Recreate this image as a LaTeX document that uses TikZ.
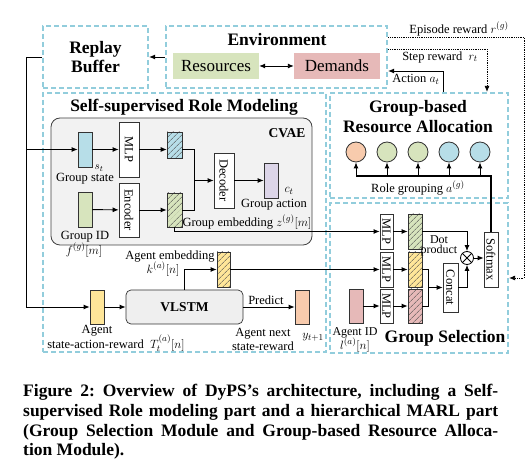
\documentclass[tikz,border=0pt]{standalone}
\usepackage{fontspec}
\setmainfont{Liberation Serif}
\usepackage{graphicx}
\usetikzlibrary{arrows.meta,patterns.meta,calc}
\frenchspacing
\definecolor{dashc}{HTML}{92CDDC}
\definecolor{resg}{HTML}{D7E4BD}
\definecolor{demr}{HTML}{E6B9B8}
\definecolor{blu}{HTML}{B7DEE8}
\definecolor{peach}{HTML}{F8CBAD}
\definecolor{agy}{HTML}{FFE699}
\definecolor{lav}{HTML}{DCD5E8}
\definecolor{cvaeg}{HTML}{F2F2F2}
\definecolor{vlg}{HTML}{EFEFEF}
\newcommand{\titlef}{\fontsize{17.5}{19.5}\selectfont\bfseries}
\newcommand{\midf}{\fontsize{13.5}{15}\selectfont\bfseries}
\newcommand{\regf}{\fontsize{17}{19}\selectfont}
\newcommand{\smallf}{\fontsize{12.5}{14}\selectfont}
\newcommand{\capf}{\fontsize{17.5}{19.7}\selectfont\bfseries}
\begin{document}
\begin{tikzpicture}[x=1pt,y=-1pt,
  >={Latex[length=6pt,width=5pt]},
  dbox/.style={draw=dashc, line width=2.2pt, dash pattern=on 5pt off 3pt, inner sep=0},
  conn/.style={line width=0.9pt, draw=black},
  dotline/.style={line width=0.8pt, densely dotted, draw=black},
  vec/.style={draw=black!80, line width=0.7pt, inner sep=0, minimum width=14pt, minimum height=35pt},
  hatch/.style={vec, preaction={fill=#1}, pattern={Lines[angle=45,distance=4pt,line width=0.6pt]}, pattern color=black!70},
  layer/.style={draw=black!80, line width=0.7pt, fill=white, inner sep=0, minimum width=20pt, minimum height=55pt, font=\smallf},
  lab/.style={font=\smallf, inner sep=0},
  circ/.style={circle, draw=black!80, line width=0.8pt, minimum size=20pt, inner sep=0}
]
\useasboundingbox (0,0) rectangle (531,470);

% dashed frames
\node[dbox, minimum width=105pt, minimum height=62pt, font=\titlef, align=center] (rb) at (95.5,57) {Replay\\Buffer};
\node[dbox, minimum width=221pt, minimum height=62pt] (env) at (276.5,57) {};
\node[font=\titlef, inner sep=0] (envt) at (277,40) {Environment};
\node[fill=resg, minimum width=86pt, minimum height=26pt, font=\regf, inner sep=0] (res) at (216,66) {Resources};
\node[fill=demr, minimum width=86pt, minimum height=26pt, font=\regf, inner sep=0] (dem) at (337,66) {Demands};
\draw[conn,<->] (res) -- (dem);

\node[dbox, minimum width=283pt, minimum height=259pt] (srm) at (184.5,222.5) {};
\node[dbox, minimum width=178pt, minimum height=105pt] (gra) at (419,145.5) {};
\node[dbox, minimum width=178pt, minimum height=150pt] (gsel) at (419,278) {};

\node[font=\titlef, inner sep=0] (srmt) at (184,107) {Self-supervised Role Modeling};
\node[font=\titlef, inner sep=0] (grat1) at (418,108) {Group-based};
\node[font=\titlef, inner sep=0] (grat2) at (418,127) {Resource Allocation};
\node[font=\titlef, inner sep=0] (gselt) at (445,338) {Group Selection};

% CVAE
\node[draw=black!75, line width=0.8pt, fill=cvaeg, rounded corners=9pt, minimum width=261pt, minimum height=127pt] (cvae) at (181.5,181.5) {};
\node[font=\midf, inner sep=0] (cvaet) at (287,133) {CVAE};

\node[vec, fill=blu] (gs) at (85,149.5) {};
\node[layer] (mlp1) at (129,149.5) {\rotatebox{-90}{MLP}};
\node[hatch=blu, minimum width=15pt, minimum height=26pt] (h1) at (174.5,145) {};
\node[vec, fill=resg] (gid) at (85,209.5) {};
\node[layer, minimum height=54pt] (enc) at (129,210) {\rotatebox{-90}{Encoder}};
\node[hatch=resg, minimum width=15pt, minimum height=34pt] (h2) at (174.5,210) {};
\node[layer] (dec) at (224,180.5) {\rotatebox{-90}{Decoder}};
\node[vec, fill=lav] (ga) at (271,180.5) {};

\node[lab, font=\fontsize{11}{12}\selectfont] at (99,168) {$s_t$};
\node[lab] at (85,179) {Group state};
\node[lab] at (85,237) {Group ID};
\node[lab] at (84,250) {$f^{(g)}[m]$};
\node[lab] at (289,191) {$c_t$};
\node[lab] at (274,205) {Group action};
\node[lab] at (247,222) {Group embedding $z^{(g)}[m]$};

\draw[conn,->] (gs) -- (mlp1);
\draw[conn,->] (mlp1.east) -- (mlp1.east -| h1.west);
\draw[conn,->] (gid) -- (enc);
\draw[conn,->] (enc) -- (h2);
\draw[conn] (mlp1.east -| h1.east) -| ([xshift=12pt]h2.east) -- (h2.east);
\draw[conn,->] ([xshift=12pt]h2.east |- dec.west) -- (dec.west);
\draw[conn,->] (dec) -- (ga);

% lower part
\node[vec, fill=agy, minimum height=34pt] (ag) at (97,307) {};
\node[draw=black!80, line width=0.7pt, fill=vlg, rounded corners=5pt, minimum width=117pt, minimum height=34pt, font=\midf, inner sep=0] (vl) at (184.5,307) {VLSTM};
\node[hatch=agy, minimum width=13pt] (ae) at (223.5,269.5) {};
\node[vec, fill=peach, minimum height=34pt] (pr) at (302,307) {};

\draw[conn,->] (rb.west) -- ++(-15,0) coordinate (lt) |- (ag.west);
\draw[conn,->] (lt |- gs.west) -- (gs.west);
\draw[conn,->] (ag) -- (vl);
\draw[conn,->] (vl) -- (pr);
\draw[conn,->] (vl.north) |- (ae.west);

\node[lab] at (97,331) {Agent};
\node[lab] at (116,343) {state-action-reward\enspace$T_t^{(a)}[n]$};
\node[lab] at (170,257) {Agent embedding};
\node[lab] at (163,269) {$k^{(a)}[n]$};
\node[lab] at (266,300) {Predict};
\node[lab] at (263,334) {Agent next};
\node[lab] at (263,346) {state-reward};
\node[lab] at (313,337) {$y_{t+1}$};

% group selection
\node[layer, minimum width=13pt, minimum height=35pt] (gm1) at (386.5,231.5) {\rotatebox{-90}{MLP}};
\node[layer, minimum width=13pt, minimum height=35pt] (gm2) at (386.5,269.5) {\rotatebox{-90}{MLP}};
\node[layer, minimum width=13pt, minimum height=34pt] (gm3) at (386.5,306) {\rotatebox{-90}{MLP}};
\node[hatch=resg] (gh1) at (415,231.5) {};
\node[hatch=agy] (gh2) at (415,269.5) {};
\node[hatch=demr, minimum height=34pt] (gh3) at (415,306) {};
\node[vec, fill=demr, minimum height=34pt] (aid) at (356,306) {};
\node[lab, font=\fontsize{12}{13}\selectfont] at (355,333) {Agent ID};
\node[lab] at (355,345) {$l^{(a)}[n]$};
\node[circle, draw=black, line width=0.8pt, minimum size=13pt, inner sep=0, fill=white] (dot) at (467,258) {};
\draw[line width=0.8pt] (dot.north east) -- (dot.south west) (dot.north west) -- (dot.south east);
\node[lab, align=center, font=\fontsize{12}{10.5}\selectfont] (dott) at (439,246) {Dot\\product};
\node[layer, minimum width=15pt, minimum height=49pt] (cc) at (450.5,287.5) {\rotatebox{-90}{Concat}};
\node[layer, minimum width=14pt, minimum height=55pt] (sm) at (491,259.5) {\rotatebox{-90}{Softmax}};

\draw[conn,->] (h2.south) |- (gm1.west);
\draw[conn,->] (ae.east) -- (gm2.west);
\draw[conn,->] (aid) -- (gm3);
\draw[conn,->] (gm1) -- (gh1);
\draw[conn,->] (gm2) -- (gh2);
\draw[conn,->] (gm3) -- (gh3);
\draw[conn,->] (gh1.east) -| (dot.north);
\draw[conn] (gh2.east) -| ([xshift=6pt]gh3.east) -- (gh3.east);
\draw[conn,->] ([xshift=6pt]gh2.east |- cc.west) -- (cc.west);
\draw[conn,->] (cc.east) -| (dot.south);
\draw[conn,->] (dot.east) -- (dot.east -| sm.west);

% resource allocation
\node[circ, fill=peach] (c1) at (356,152) {};
\node[circ, fill=resg] (c2) at (387,152) {};
\node[circ, fill=resg] (c3) at (418,152) {};
\node[circ, fill=blu] (c4) at (449,152) {};
\node[circ, fill=blu] (c5) at (480,152) {};
\coordinate (rgy) at (0,176);
\draw[line width=1.4pt] (sm.north) |- (c1.south |- rgy);
\foreach \i in {1,...,5} \draw[conn,->] (c\i.south |- rgy) -- (c\i.south);
\node[lab] at (418,188) {Role grouping $a^{(g)}$};

% top connectors
\draw[conn,->] (env.west) -- (rb.east);
\draw[conn,->] ([xshift=24pt]gra.north) |- ([yshift=-14pt]env.east);
\draw[dotline,->] ([yshift=8pt]env.east) -| ([xshift=68pt]gra.north);
\draw[dotline,->] ([yshift=20pt]env.east) -| ([xshift=15pt]gsel.east) -- (gsel.east);
\node[lab] at (459,29) {Episode reward $r^{(g)}$};
\node[lab] at (440,57) {Step reward\enspace$r_t$};
\node[lab] at (416,79) {Action $a_t$};

% caption
\node[anchor=base west, inner sep=0, font=\capf] (cap1) at (23,397) {\hbox to 475pt{Figure 2: Overview of DyPS's architecture, including a Self-}};
\node[anchor=base west, inner sep=0, font=\capf] (cap2) at (23,416.7) {\hbox to 475pt{supervised Role modeling part and a hierarchical MARL part}};
\node[anchor=base west, inner sep=0, font=\capf] (cap3) at (23,436.4) {\hbox to 475pt{(Group Selection Module and Group-based Resource Alloca-}};
\node[anchor=base west, inner sep=0, font=\capf] (cap4) at (23,456) {tion Module).};
\end{tikzpicture}
\end{document}
